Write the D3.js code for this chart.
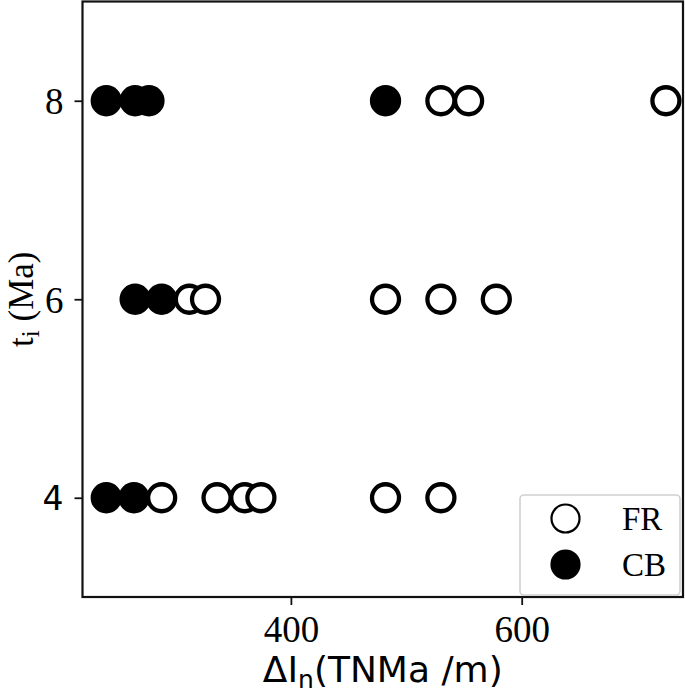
<!DOCTYPE html>
<html>
<head>
<meta charset="utf-8">
<script src="https://cdn.jsdelivr.net/npm/d3@7"></script>
<style>
  html, body { margin: 0; padding: 0; background: #fff; }
  svg { display: block; }
</style>
</head>
<body>
<svg id="chart" width="685" height="696"></svg>
<script>
// ---- data ----
const frDeltaI = [288, 336, 360, 374, 482, 530, 312, 326, 482, 530, 578, 530, 554, 725];
const frTi     = [4,   4,   4,   4,   4,   4,   6,   6,   6,   6,   6,   8,   8,   8];
const cbDeltaI = [240, 264, 265, 288, 240, 265, 277, 482];
const cbTi     = [4,   4,   6,   6,   8,   8,   8,   8];
const xTicks = [400, 600];
const yTicks = [4, 6, 8];
const seriesNames = ["FR", "CB"];

(function () {
const svg = d3.select("#chart");
const pLeft = 82.5, pRight = 683, pTop = 1.5, pBottom = 597;

const x = d3.scaleLinear().domain([219.4, 739.8]).range([pLeft, pRight]);
const y = d3.scaleLinear().domain([3, 9]).range([pBottom, pTop]);

const serif = "'Liberation Serif', 'Times New Roman', serif";
const sans = "'DejaVu Sans', sans-serif";

const frData = frDeltaI.map((v, i) => ({x: v, y: frTi[i]}));
const cbData = cbDeltaI.map((v, i) => ({x: v, y: cbTi[i]}));

const g = svg.append("g");
g.selectAll("circle.fr").data(frData).enter().append("circle")
  .attr("class", "fr")
  .attr("cx", d => x(d.x)).attr("cy", d => y(d.y)).attr("r", 13.5)
  .attr("fill", "#fff").attr("stroke", "#000").attr("stroke-width", 4.3);
g.selectAll("circle.cb").data(cbData).enter().append("circle")
  .attr("class", "cb")
  .attr("cx", d => x(d.x)).attr("cy", d => y(d.y)).attr("r", 13.5)
  .attr("fill", "#000").attr("stroke", "#000").attr("stroke-width", 4.3);

// axes
const xAxis = svg.append("g").attr("transform", `translate(0,${pBottom})`)
  .call(d3.axisBottom(x).tickValues(xTicks).tickSize(8).tickPadding(10).tickFormat(d3.format("d")));
xAxis.select(".domain").remove();
xAxis.selectAll(".tick line").attr("stroke", "#111").attr("stroke-width", 1.8);
xAxis.selectAll(".tick text").attr("font-family", serif).attr("font-size", 37).attr("fill", "#000").attr("dy", "0.72em");

const yAxis = svg.append("g").attr("transform", `translate(${pLeft},0)`)
  .call(d3.axisLeft(y).tickValues(yTicks).tickSize(8).tickPadding(11).tickFormat(d3.format("d")));
yAxis.select(".domain").remove();
yAxis.selectAll(".tick line").attr("stroke", "#111").attr("stroke-width", 1.8);
yAxis.selectAll(".tick text")
  .attr("font-family", d => d === 4 ? sans : serif)
  .attr("font-size", d => d === 4 ? 33 : 37)
  .attr("fill", "#000").attr("dy", "0.35em");

// frame
svg.append("rect")
  .attr("x", pLeft).attr("y", pTop)
  .attr("width", pRight - pLeft).attr("height", pBottom - pTop)
  .attr("fill", "none").attr("stroke", "#111").attr("stroke-width", 2.2);

// axis labels
const xl = svg.append("text")
  .attr("x", (pLeft + pRight) / 2).attr("y", 682)
  .attr("text-anchor", "middle")
  .attr("font-family", sans).attr("font-size", 36).attr("fill", "#000");
xl.append("tspan").text("ΔI");
xl.append("tspan").attr("font-size", 25).attr("dy", 6).text("n");
xl.append("tspan").attr("dy", -6).text("(TNMa /m)");

const yl = svg.append("text")
  .attr("transform", `translate(33,${(pTop + pBottom) / 2}) rotate(-90)`)
  .attr("text-anchor", "middle")
  .attr("font-family", serif).attr("font-size", 35).attr("fill", "#000");
yl.append("tspan").text("t");
yl.append("tspan").attr("font-size", 25).attr("dy", 6).text("i");
yl.append("tspan").attr("dy", -6).text(" (Ma)");

// legend
const lg = svg.append("g");
lg.append("rect")
  .attr("x", 520).attr("y", 495).attr("width", 160).attr("height", 100)
  .attr("rx", 4).attr("fill", "#fff").attr("fill-opacity", 0.85)
  .attr("stroke", "#d0d0d0").attr("stroke-width", 1.6);
const legendItems = seriesNames.map((n, i) => ({name: n, filled: i === 1}));
const li = lg.selectAll("g.item").data(legendItems).enter().append("g")
  .attr("transform", (d, i) => `translate(0,${518.5 + i * 46})`);
li.append("circle").attr("cx", 565.5).attr("cy", 0).attr("r", 14)
  .attr("fill", d => d.filled ? "#000" : "#fff").attr("stroke", "#000").attr("stroke-width", 2.2);
li.append("text").attr("x", 622).attr("y", 0).attr("dy", "0.36em")
  .attr("font-family", serif).attr("font-size", 33).attr("fill", "#000")
  .text(d => d.name);
})();
</script>
</body>
</html>
